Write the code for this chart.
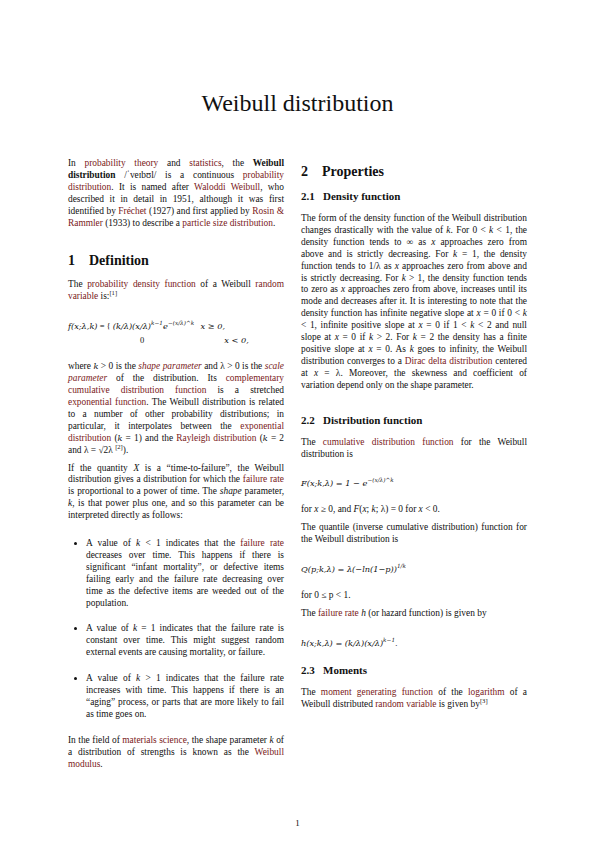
<!DOCTYPE html>
<html><head><meta charset="utf-8">
<script src="https://cdn.jsdelivr.net/npm/chart.js@4"></script>
<style>
body{margin:0;width:595px;height:842px;background:#fff;font-family:"Liberation Serif","DejaVu Serif",serif;color:#111;position:relative;overflow:hidden}
h1{position:absolute;top:90px;left:0;width:595px;text-align:center;font-weight:normal;font-size:24px;margin:0}
.col{position:absolute;top:158px;width:216px;font-size:9.4px;line-height:11.9px;text-align:justify;hyphens:auto}
#l{left:68px}#r{left:301px;width:226px;top:164px}
a{color:#7a1a1a;text-decoration:none}
h2{font-size:14px;line-height:16px;margin:0 0 10px 0}
h3{font-size:11px;line-height:13px;margin:0 0 10px 0}
p{margin:0 0 6px 0}
sup{line-height:0;font-size:70%}
.m{font-style:italic;font-family:"DejaVu Serif",serif;font-size:8.2px}
ul{margin:0;padding-left:18px}li{margin-bottom:14px}
.eq{margin:16px 0 14px 0;font-size:8.5px;line-height:14px}
#pn{position:absolute;top:818px;left:0;width:595px;text-align:center;font-size:9px}
</style></head><body>
<h1>Weibull distribution</h1>
<div class="col" id="l">
<p>In <a>probability theory</a> and <a>statistics</a>, the <b>Weibull distribution</b> /ˈveɪbʊl/ is a continuous <a>probability distribution</a>. It is named after <a>Waloddi Weibull</a>, who described it in detail in 1951, although it was first identified by <a>Fréchet</a> (1927) and first applied by <a>Rosin &amp; Rammler</a> (1933) to describe a <a>particle size distribution</a>.</p>
<h2 style="margin-top:24px">1&nbsp;&nbsp;&nbsp;&nbsp;Definition</h2>
<p>The <a>probability density function</a> of a Weibull <a>random variable</a> is:<sup>[1]</sup></p>
<div class="eq"><span class="m">f(x;λ,k)</span> = { <span class="m">(k/λ)(x/λ)<sup>k−1</sup>e<sup>−(x/λ)^k</sup></span> &nbsp;&nbsp;<span class="m">x ≥ 0,</span><br><span style="margin-left:72px">0</span><span style="margin-left:80px" class="m">x &lt; 0,</span></div>
<p>where <span class="m">k</span> &gt; 0 is the <a><i>shape parameter</i></a> and λ &gt; 0 is the <a><i>scale parameter</i></a> of the distribution. Its <a>complementary cumulative distribution function</a> is a stretched <a>exponential function</a>. The Weibull distribution is related to a number of other probability distributions; in particular, it interpolates between the <a>exponential distribution</a> (<span class="m">k</span> = 1) and the <a>Rayleigh distribution</a> (<span class="m">k</span> = 2 and λ = √2λ <sup>[2]</sup>).</p>
<p>If the quantity <i>X</i> is a “time-to-failure”, the Weibull distribution gives a distribution for which the <a>failure rate</a> is proportional to a power of time. The <i>shape</i> parameter, <i>k</i>, is that power plus one, and so this parameter can be interpreted directly as follows:</p>
<ul style="margin-top:16px">
<li>A value of <i>k</i> &lt; 1 indicates that the <a>failure rate</a> decreases over time. This happens if there is significant “infant mortality”, or defective items failing early and the failure rate decreasing over time as the defective items are weeded out of the population.</li>
<li>A value of <i>k</i> = 1 indicates that the failure rate is constant over time. This might suggest random external events are causing mortality, or failure.</li>
<li>A value of <i>k</i> &gt; 1 indicates that the failure rate increases with time. This happens if there is an “aging” process, or parts that are more likely to fail as time goes on.</li>
</ul>
<p>In the field of <a>materials science</a>, the shape parameter <i>k</i> of a distribution of strengths is known as the <a>Weibull modulus</a>.</p>
</div>
<div class="col" id="r">
<h2>2&nbsp;&nbsp;&nbsp;&nbsp;Properties</h2>
<h3>2.1&nbsp;&nbsp;&nbsp;Density function</h3>
<p>The form of the density function of the Weibull distribution changes drastically with the value of <i>k</i>. For 0 &lt; <i>k</i> &lt; 1, the density function tends to ∞ as <i>x</i> approaches zero from above and is strictly decreasing. For <i>k</i> = 1, the density function tends to 1/λ as <i>x</i> approaches zero from above and is strictly decreasing. For <i>k</i> &gt; 1, the density function tends to zero as <i>x</i> approaches zero from above, increases until its mode and decreases after it. It is interesting to note that the density function has infinite negative slope at <i>x</i> = 0 if 0 &lt; <i>k</i> &lt; 1, infinite positive slope at <i>x</i> = 0 if 1 &lt; <i>k</i> &lt; 2 and null slope at <i>x</i> = 0 if <i>k</i> &gt; 2. For <i>k</i> = 2 the density has a finite positive slope at <i>x</i> = 0. As <i>k</i> goes to infinity, the Weibull distribution converges to a <a>Dirac delta distribution</a> centered at <i>x</i> = λ. Moreover, the skewness and coefficient of variation depend only on the shape parameter.</p>
<h3 style="margin-top:22px">2.2&nbsp;&nbsp;&nbsp;Distribution function</h3>
<p>The <a>cumulative distribution function</a> for the Weibull distribution is</p>
<div class="eq"><span class="m">F(x;k,λ) = 1 − e<sup>−(x/λ)^k</sup></span></div>
<p>for <i>x</i> ≥ 0, and <i>F</i>(<i>x</i>; <i>k</i>; λ) = 0 for <i>x</i> &lt; 0.</p>
<p>The quantile (inverse cumulative distribution) function for the Weibull distribution is</p>
<div class="eq"><span class="m">Q(p;k,λ) = λ(−ln(1−p))<sup>1/k</sup></span></div>
<p>for 0 ≤ p &lt; 1.</p>
<p>The <a>failure rate</a> <i>h</i> (or hazard function) is given by</p>
<div class="eq"><span class="m">h(x;k,λ) = (k/λ)(x/λ)<sup>k−1</sup>.</span></div>
<h3>2.3&nbsp;&nbsp;&nbsp;Moments</h3>
<p>The <a>moment generating function</a> of the <a>logarithm</a> of a Weibull distributed <a>random variable</a> is given by<sup>[3]</sup></p>
</div>
<div id="pn">1</div>
</body></html>
